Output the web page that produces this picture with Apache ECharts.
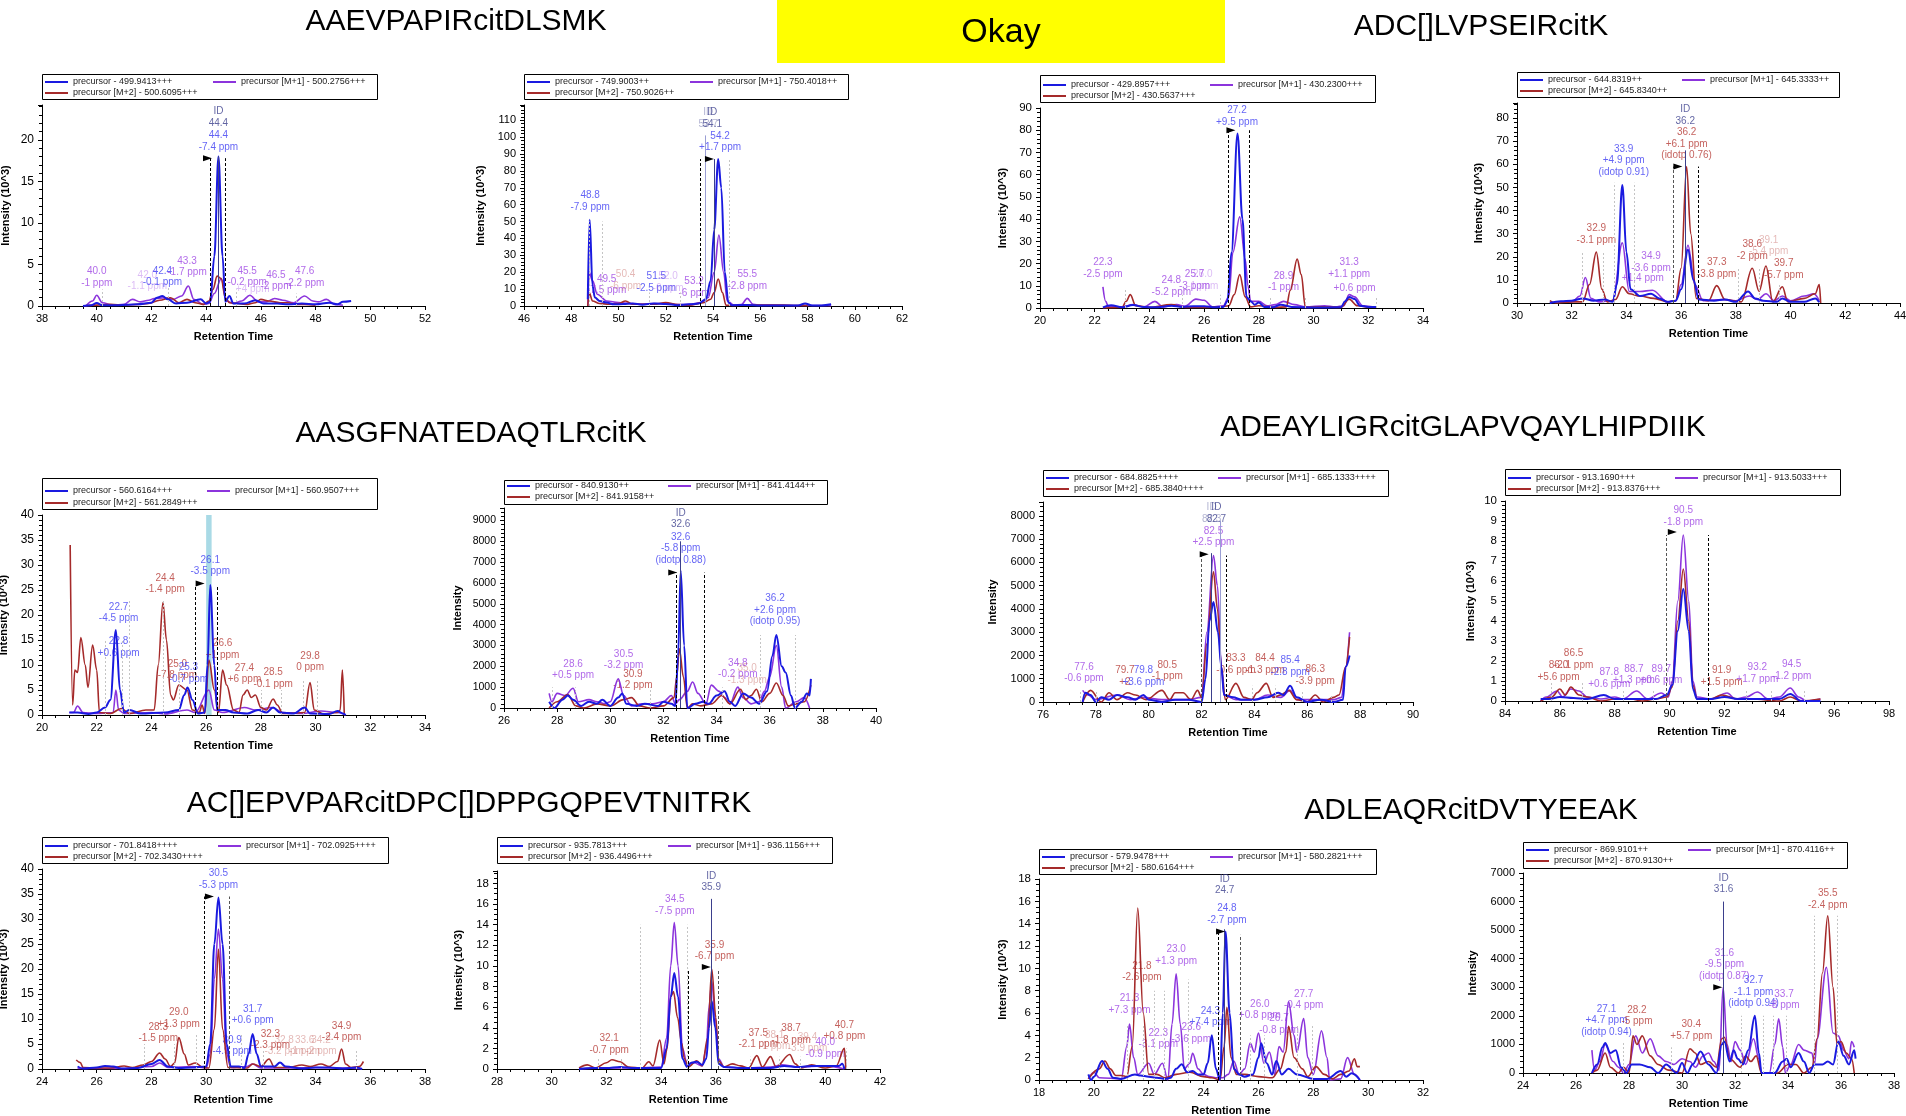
<!DOCTYPE html>
<html>
<head>
<meta charset="utf-8">
<script src="https://cdn.jsdelivr.net/npm/echarts@6/dist/echarts.min.js"></script>
<style>
  html, body { margin: 0; padding: 0; background: #fff; }
  #main { width: 1906px; height: 1116px; }
</style>
</head>
<body>
<div id="main"></div>
<script>
// peptide titles (one per pair of panels) and the status box
const titles = ['AAEVPAPIRcitDLSMK', 'ADC[]LVPSEIRcitK', 'AASGFNATEDAQTLRcitK', 'ADEAYLIGRcitGLAPVQAYLHIPDIIK', 'AC[]EPVPARcitDPC[]DPPGQPEVTNITRK', 'ADLEAQRcitDVTYEEAK'];
const statusText = 'Okay';

// legend names per panel: [precursor, M+1, M+2]
const legendNames = [
  ['precursor - 499.9413+++', 'precursor [M+1] - 500.2756+++', 'precursor [M+2] - 500.6095+++'],
  ['precursor - 749.9003++', 'precursor [M+1] - 750.4018++', 'precursor [M+2] - 750.9026++'],
  ['precursor - 429.8957+++', 'precursor [M+1] - 430.2300+++', 'precursor [M+2] - 430.5637+++'],
  ['precursor - 644.8319++', 'precursor [M+1] - 645.3333++', 'precursor [M+2] - 645.8340++'],
  ['precursor - 560.6164+++', 'precursor [M+1] - 560.9507+++', 'precursor [M+2] - 561.2849+++'],
  ['precursor - 840.9130++', 'precursor [M+1] - 841.4144++', 'precursor [M+2] - 841.9158++'],
  ['precursor - 684.8825++++', 'precursor [M+1] - 685.1333++++', 'precursor [M+2] - 685.3840++++'],
  ['precursor - 913.1690+++', 'precursor [M+1] - 913.5033+++', 'precursor [M+2] - 913.8376+++'],
  ['precursor - 701.8418++++', 'precursor [M+1] - 702.0925++++', 'precursor [M+2] - 702.3430++++'],
  ['precursor - 935.7813+++', 'precursor [M+1] - 936.1156+++', 'precursor [M+2] - 936.4496+++'],
  ['precursor - 579.9478+++', 'precursor [M+1] - 580.2821+++', 'precursor [M+2] - 580.6164+++'],
  ['precursor - 869.9101++', 'precursor [M+1] - 870.4116++', 'precursor [M+2] - 870.9130++']
];

// axis ranges
const xMins = [38, 46, 20, 30, 20, 26, 76, 84, 24, 28, 18, 24];
const xMaxs = [52, 62, 34, 44, 34, 40, 90, 98, 38, 42, 32, 38];
const yMaxs = [24.2, 119, 90, 86.5, 40, 9600, 8600, 10, 40, 19.2, 18, 7000];
const yIntervals = [5, 10, 10, 10, 5, 1000, 1000, 1, 5, 2, 2, 1000];
const yNames = ['Intensity (10^3)', 'Intensity (10^3)', 'Intensity (10^3)', 'Intensity (10^3)', 'Intensity (10^3)', 'Intensity',
  'Intensity', 'Intensity (10^3)', 'Intensity (10^3)', 'Intensity (10^3)', 'Intensity (10^3)', 'Intensity'];

// traces: [retention time, intensity]
const p1Blue = [[39.5,0],[39.8,0.1],[40.0,0.35],[40.2,0.1],[40.8,0.1],[41.5,0.2],[42.0,0.4],[42.2,1.0],[42.4,1.2],[42.6,0.8],[42.9,0.3],[43.3,0.4],[43.8,0.8],[44.0,0.3],[44.15,0.5],[44.3,6],[44.45,18],[44.6,6],[44.7,0.5],[44.85,1.2],[45.0,0.3],[45.4,0.3],[45.8,0.7],[46.1,0.3],[46.6,0.3],[47.0,0.2],[47.5,0.3],[48.0,0.2],[48.5,0.4],[48.8,0.2],[49.0,0.5],[49.3,0.6]];
const p1Purple = [[39.6,0],[39.85,0.6],[40.0,1.3],[40.2,0.4],[40.6,0.1],[41.0,0.2],[41.3,0.8],[41.6,0.5],[41.9,0.7],[42.1,0.9],[42.5,1.0],[42.8,0.8],[43.1,1.2],[43.35,2.4],[43.55,0.8],[43.9,0.2],[44.1,0.3],[44.3,1.5],[44.55,3.3],[44.75,0.6],[45.0,0.3],[45.3,0.6],[45.6,1.3],[45.9,0.5],[46.2,0.5],[46.5,0.9],[46.8,0.7],[47.2,0.4],[47.6,1.2],[47.9,0.6],[48.1,0.5],[48.4,0.8],[48.7,0.2],[49.0,0.1]];
const p1Red = [[39.5,0],[40.0,0.1],[40.5,0.2],[41.0,0.1],[41.5,0.2],[41.9,0.3],[42.3,0.7],[42.7,1.0],[43.0,0.4],[43.3,0.8],[43.6,0.4],[43.9,0.2],[44.1,0.6],[44.25,2.0],[44.4,3.6],[44.55,3.3],[44.7,1.0],[44.85,0.4],[45.5,0.2],[45.8,0.4],[46.0,0.8],[46.3,0.6],[46.7,0.4],[47.0,0.4],[47.3,0.2],[47.6,0.2],[48.0,0.1]];

const p2Blue = [[48.7,4],[48.78,51],[48.9,12],[49.0,5],[49.2,3],[49.5,2],[49.8,1],[50.2,1.2],[50.6,1.5],[51.0,0.8],[51.5,1.5],[52.0,1.2],[52.5,0.5],[53.0,1],[53.4,1.5],[53.7,4],[53.9,15],[54.05,45],[54.22,87],[54.35,70],[54.5,20],[54.65,2],[54.8,0.5],[55.5,0.6],[56.0,0.3],[57.0,0.3],[57.6,0.3],[57.9,1.5],[58.2,0.3],[58.6,0.3],[59.0,1.0]];
const p2Purple = [[48.7,0],[48.76,20],[48.9,15],[49.1,7],[49.5,3],[50.0,2],[50.5,1.5],[51.0,1.2],[51.5,1.5],[52.0,1.5],[52.5,0.8],[53.0,1],[53.5,2],[53.8,5],[54.05,20],[54.25,42],[54.45,20],[54.6,3],[54.9,0.5],[55.2,0.8],[55.45,4.5],[55.7,1],[56.0,0.5],[56.5,0.5],[57.5,0.3],[58.0,0.3],[59.0,0.2]];
const p2Red = [[48.7,0],[48.76,8],[48.9,3],[49.2,1.5],[49.6,1],[50.0,1.5],[50.3,3],[50.6,1],[51.0,1],[51.5,1],[52.0,2],[52.5,0.8],[53.0,0.5],[53.6,2],[53.9,4],[54.05,8],[54.22,16],[54.4,8],[54.55,0.5],[54.8,0.3],[55.5,0.5],[56.2,0.5],[57.0,0.5],[57.5,0.3],[58.0,0.2]];

const p3Blue = [[22.3,0.3],[22.6,1.2],[23.0,0.3],[23.4,1.3],[23.8,0.4],[24.3,0.3],[24.8,1.0],[25.2,0.5],[25.6,0.8],[26.0,0.8],[26.4,0.3],[26.7,0.5],[26.85,3],[27.0,25],[27.22,78.5],[27.4,40],[27.55,5],[27.7,3],[27.85,1.5],[28.0,2.5],[28.2,0.5],[28.5,0.3],[28.8,1.5],[29.2,0.5],[30.0,0.2],[31.0,0.3],[31.15,3],[31.3,5],[31.5,4],[31.7,1],[32.0,0.5],[32.3,0.5]];
const p3Purple = [[22.3,9.5],[22.4,3],[22.5,0.5],[23.0,0.5],[23.4,1.5],[23.8,0.5],[24.2,3],[24.5,0.5],[25.0,1.5],[25.3,0.8],[25.7,4],[26.0,3.5],[26.3,0.5],[26.7,1],[26.9,5],[27.05,25],[27.3,41],[27.5,22],[27.6,10],[27.7,3],[28.0,3],[28.3,1],[28.6,1.5],[28.9,3],[29.3,1.5],[29.7,0.5],[30.4,1],[30.8,0.5],[31.1,1],[31.3,6],[31.5,5],[31.8,1],[32.3,0.3]];
const p3Red = [[22.3,0],[23.0,0.3],[23.15,3],[23.3,6],[23.5,1],[24.0,0.3],[24.8,1.5],[25.3,0.3],[26.0,0.3],[26.6,0.5],[26.9,1],[27.1,6],[27.3,15],[27.5,5],[27.7,0.5],[28.0,1],[28.6,0.3],[29.0,0.5],[29.15,8],[29.4,22],[29.55,15],[29.7,0.3],[30.3,0.5],[31.0,0.3],[31.3,4],[31.6,1],[32.0,0.2]];

const p4Blue = [[31.2,0],[31.6,0.8],[32.0,1],[32.4,2],[32.8,1],[33.2,1.5],[33.5,0.5],[33.65,8],[33.85,51],[34.0,22],[34.15,6],[34.5,3],[34.9,4],[35.2,2],[35.5,0.5],[35.8,1],[36.0,6],[36.25,23],[36.45,10],[36.65,1.5],[37.2,1],[37.6,1.5],[38.0,0.5],[38.45,5],[38.7,2],[39.0,1],[39.5,0.5],[39.7,2],[40.0,0.5],[40.5,0.5],[40.9,2],[41.05,0.3]];
const p4Purple = [[31.5,0.5],[32.0,0.5],[32.3,3],[32.5,11],[32.7,2],[33.0,0.5],[33.5,1],[33.85,26],[34.1,5],[34.5,5],[34.95,5.5],[35.5,0.5],[35.8,1],[36.0,8],[36.25,25],[36.5,8],[36.8,1],[37.5,1.5],[38.0,1],[38.5,3],[38.8,1.5],[39.1,4],[39.4,1],[39.7,3],[40.0,1],[40.5,3],[40.85,4],[41.05,1]];
const p4Red = [[31.2,1],[31.4,0],[32.0,0.5],[32.4,0.5],[32.65,8],[32.9,22],[33.1,6],[33.3,0.5],[33.6,1.5],[33.85,7],[34.1,4],[34.5,3],[35.0,2],[35.5,0.5],[35.8,1],[36.0,15],[36.2,59],[36.35,30],[36.55,2],[37.0,1],[37.3,7.5],[37.6,1.5],[38.2,0.5],[38.6,15],[38.85,5],[39.1,16],[39.35,0.5],[39.7,7],[39.9,0.5],[40.5,2],[40.9,4],[41.05,8],[41.1,0]];

const p5Blue = [[21.0,0.5],[21.3,0.5],[21.7,0.2],[22.0,0.5],[22.3,1.5],[22.5,3],[22.7,17],[22.85,5],[23.0,0.5],[23.2,1],[23.6,0.3],[24.5,0.5],[25.0,1],[25.2,4],[25.32,5.5],[25.5,3],[25.7,0.3],[25.95,0.5],[26.05,10],[26.15,26],[26.3,10],[26.4,1],[26.7,1],[27.0,0.5],[27.5,0.3],[27.9,1],[28.2,0.5],[28.45,1.5],[28.7,0.5],[29.2,0.3],[29.6,1.5],[29.8,0.3],[30.5,0.2],[30.8,0.8],[31.0,0.3],[31.1,0]];
const p5Purple = [[21.0,0.5],[21.15,0.5],[21.3,1.8],[21.5,0.5],[22.0,0.3],[22.6,0.5],[22.7,5],[22.8,1],[23.0,0.3],[24.0,0.5],[24.5,0.2],[25.3,1],[25.6,0.5],[26.1,5],[26.3,1],[26.6,0.5],[27.4,1.5],[27.8,1],[28.4,1.5],[28.8,0.5],[29.5,0.3],[30.2,0.8],[30.8,0.5],[31.1,0]];
const p5Red = [[21.03,34],[21.12,2],[21.2,9],[21.3,8.5],[21.42,15.5],[21.58,10],[21.68,5.5],[21.85,14],[22.0,9],[22.1,0.5],[22.5,0.3],[22.9,1.3],[23.2,0.3],[23.8,1],[24.1,1],[24.25,10],[24.42,22.5],[24.55,15],[24.7,4],[24.8,3],[25.0,6],[25.3,5],[25.5,1],[25.75,0.5],[25.85,2],[25.95,0.3],[26.1,11],[26.3,5],[26.45,0.5],[26.6,9],[26.75,6],[27.0,1],[27.2,0.5],[27.35,4],[27.5,5],[27.65,3.5],[27.8,4],[28.0,1.5],[28.2,1],[28.45,3.2],[28.6,2],[28.8,0.3],[29.6,0.5],[29.8,6.5],[29.95,1],[30.3,0.2],[30.8,0.5],[30.9,1],[30.98,9],[31.05,0]];

const p6Blue = [[27.7,300],[27.9,0],[28.2,400],[28.4,600],[28.6,400],[28.9,100],[29.2,300],[29.5,200],[29.7,400],[30.0,100],[30.3,500],[30.45,700],[30.6,200],[31.0,100],[31.3,200],[31.8,100],[32.0,300],[32.3,200],[32.45,100],[32.55,2500],[32.65,6600],[32.78,3000],[32.9,0],[33.2,200],[33.5,300],[33.7,200],[34.0,600],[34.3,800],[34.5,300],[34.7,100],[35.0,700],[35.3,500],[35.6,200],[35.9,800],[36.1,2500],[36.25,3500],[36.45,2000],[36.6,1700],[36.8,600],[36.95,0],[37.2,300],[37.4,700],[37.5,600],[37.55,1400]];
const p6Purple = [[27.7,700],[27.8,300],[28.0,700],[28.3,600],[28.6,950],[28.8,300],[29.2,400],[29.5,300],[29.8,200],[30.0,300],[30.3,1400],[30.5,600],[30.8,100],[31.2,200],[31.6,200],[32.0,300],[32.3,600],[32.45,200],[32.6,400],[32.9,800],[33.1,1250],[33.3,700],[33.6,200],[33.8,1100],[34.1,800],[34.3,500],[34.5,200],[34.8,1000],[35.0,500],[35.3,200],[35.6,300],[35.8,800],[36.0,1500],[36.25,3000],[36.45,1000],[36.6,0],[37.0,300],[37.3,500],[37.5,0]];
const p6Red = [[27.7,0],[28.0,300],[28.4,650],[28.7,100],[29.0,0],[29.5,200],[30.0,100],[30.5,400],[30.8,500],[31.1,100],[31.5,0],[32.0,100],[32.4,500],[32.5,1500],[32.6,2850],[32.75,1500],[32.9,0],[33.1,200],[33.4,100],[33.8,200],[34.2,600],[34.5,200],[34.9,900],[35.1,400],[35.3,600],[35.5,900],[35.7,300],[36.0,700],[36.25,1200],[36.5,600],[36.7,100],[37.0,200],[37.3,300],[37.55,1100]];

const p7Blue = [[77.5,0],[77.6,400],[77.8,300],[78.0,0],[78.2,200],[78.5,100],[78.8,300],[79.2,200],[79.5,100],[79.8,300],[80.0,100],[80.5,0],[81.0,100],[81.5,100],[82.0,0],[82.15,1000],[82.3,3500],[82.45,4300],[82.62,3000],[82.75,1500],[82.85,300],[83.2,200],[83.5,100],[84.0,100],[84.5,200],[84.9,400],[85.1,300],[85.35,700],[85.6,200],[86.0,0],[86.5,100],[87.0,0],[87.35,100],[87.45,1500],[87.6,2000]];
const p7Purple = [[77.5,500],[77.7,300],[78.0,100],[78.8,300],[79.3,100],[79.8,200],[80.5,100],[81.0,100],[81.5,100],[82.0,200],[82.2,3000],[82.45,6300],[82.6,5000],[82.75,1500],[82.85,300],[83.3,100],[84.0,100],[84.5,300],[85.0,200],[85.35,500],[85.6,100],[86.5,100],[87.0,100],[87.3,200],[87.45,1500],[87.6,3000]];
const p7Red = [[77.5,0],[77.8,500],[78.2,0],[78.5,400],[78.8,100],[79.2,400],[79.5,300],[79.9,100],[80.5,500],[80.8,100],[81.0,400],[81.3,400],[81.6,100],[81.85,500],[82.0,200],[82.2,2500],[82.45,5600],[82.6,4000],[82.75,1500],[82.9,100],[83.3,800],[83.6,200],[83.9,100],[84.1,400],[84.45,800],[84.7,200],[85.0,300],[85.3,500],[85.6,100],[86.0,0],[86.3,300],[86.6,0],[87.0,200],[87.2,300],[87.45,1500],[87.6,2800]];

const p8Blue = [[85.3,0.1],[85.6,0.1],[86.0,0.2],[86.5,0.15],[87.0,0.1],[87.6,0.3],[88.0,0.1],[88.5,0.1],[88.9,0.1],[89.5,0.1],[89.9,0.3],[90.1,0.8],[90.3,3.5],[90.5,5.6],[90.7,3.5],[90.85,0.6],[91.0,0.1],[91.5,0.1],[92.0,0.2],[92.5,0.1],[93.0,0.1],[93.5,0.1],[94.0,0.1],[94.4,0.35],[94.8,0],[95.5,0]];
const p8Purple = [[85.3,0],[85.5,0.2],[85.9,0.5],[86.1,0.2],[86.4,0.6],[86.7,0.5],[87.0,0.2],[87.5,0.1],[88.0,0.2],[88.3,0.1],[88.8,0.5],[89.2,0.1],[89.7,0.4],[89.95,0.2],[90.1,1.0],[90.3,5],[90.5,8.3],[90.7,5],[90.85,1],[91.0,0.2],[91.5,0.1],[92.1,0.4],[92.4,0.1],[92.8,0.2],[93.2,0.45],[93.6,0.1],[94.0,0.2],[94.4,0.65],[94.7,0.2],[95.0,0],[95.5,0.1]];
const p8Red = [[85.3,0],[85.7,0.2],[86.0,0.6],[86.2,0.3],[86.4,0.7],[86.7,0.3],[87.0,0.2],[87.5,0],[88.0,0.1],[88.6,0.1],[89.0,0],[89.5,0.1],[89.9,0.2],[90.1,0.7],[90.3,4],[90.5,6.6],[90.7,4],[90.85,0.8],[91.0,0.1],[91.5,0.1],[91.9,0.3],[92.5,0.1],[93.0,0.1],[94.0,0],[94.4,0.2],[94.8,0],[95.5,0.1]];

const p9Blue = [[25.3,0.5],[25.5,0.1],[26.0,0.3],[26.3,0.6],[26.6,0.5],[26.9,0.1],[27.5,0.2],[28.0,1],[28.3,1.8],[28.6,0.5],[29.0,0.2],[29.5,0.3],[30.0,0.5],[30.15,5],[30.3,25],[30.45,34.3],[30.6,25],[30.75,5],[30.9,0.5],[31.2,0.5],[31.4,0.2],[31.55,3],[31.7,7],[31.85,3],[32.0,0.5],[32.5,0.5],[32.7,1.3],[32.9,0.5],[33.5,0.1],[34.0,0.3],[34.5,0.3],[35.0,0.1],[35.5,0.3],[35.7,0]];
const p9Purple = [[25.3,0.1],[26.0,0.1],[27.0,0.1],[28.0,0.5],[28.3,1.2],[28.6,0.3],[29.5,0.5],[30.0,0.2],[30.15,3],[30.3,18],[30.45,28],[30.6,18],[30.75,3],[30.9,0.3],[31.5,0.5],[31.7,1],[32.0,0.2],[33.0,0.2],[34.0,0.3],[35.0,0.2],[35.7,0]];
const p9Red = [[25.25,1.8],[25.4,1.3],[25.5,0.3],[26.0,0.2],[26.5,0.2],[27.0,0.6],[27.3,0.3],[27.7,0.8],[28.0,1.5],[28.3,3.2],[28.5,2],[28.7,0.5],[28.85,1.2],[29.0,6.3],[29.2,3],[29.35,0.8],[29.6,1.2],[29.9,0.3],[30.1,0.2],[30.3,8],[30.45,24],[30.6,8],[30.8,0.3],[31.5,0.2],[31.7,1],[32.0,0.5],[32.3,2],[32.5,0.3],[33.0,0.3],[33.5,0.8],[33.8,0.5],[34.2,1],[34.5,0.5],[34.8,1.5],[34.95,4],[35.1,1],[35.3,0.3],[35.6,0.5],[35.75,1.5]];

const p10Blue = [[31.0,0],[31.5,0.1],[32.0,0.1],[32.5,0.2],[33.0,0.1],[33.5,0.1],[34.0,0.1],[34.2,2],[34.35,7],[34.48,9.3],[34.62,7],[34.78,1],[34.95,0.2],[35.1,0.6],[35.3,0.7],[35.5,0.4],[35.65,1],[35.75,4],[35.85,6.6],[35.98,4],[36.1,0.5],[36.3,0.2],[37.0,0.1],[37.5,0.1],[38.0,0.1],[38.5,0.3],[39.0,0.2],[39.5,0.3],[40.0,0.3],[40.5,0.3],[40.62,0.5],[40.7,0]];
const p10Purple = [[31.0,0],[32.0,0.1],[33.0,0.1],[34.0,0.2],[34.2,3],[34.35,10],[34.48,14.2],[34.62,10],[34.78,2],[34.95,0.5],[35.2,0.6],[35.5,0.3],[35.65,2],[35.75,6],[35.85,8.5],[35.98,5],[36.1,1],[36.3,0.2],[37.0,0.1],[38.0,0.2],[38.4,0.4],[39.0,0.2],[40.0,0.3],[40.7,0]];
const p10Red = [[31.0,0.1],[31.3,0.4],[31.6,0.1],[32.0,0.6],[32.2,0.9],[32.5,0.7],[32.8,0.2],[33.3,0.1],[33.55,0.7],[33.7,0.3],[33.95,2.8],[34.1,0.5],[34.22,2],[34.35,7],[34.45,7.5],[34.6,5],[34.75,2.5],[34.85,1],[35.0,0.2],[35.3,0.8],[35.5,0.3],[35.7,3],[35.85,9.7],[36.0,5],[36.1,0.8],[36.3,0.2],[36.6,0.5],[36.9,0.3],[37.2,0.1],[37.5,1.3],[37.7,0.2],[38.0,1.2],[38.2,0.2],[38.7,1.4],[38.9,0.5],[39.1,0.1],[39.5,0.4],[40.0,0.1],[40.4,0.3],[40.7,2],[40.75,0]];

const p11Blue = [[19.8,0.5],[19.9,0],[20.0,0.3],[20.3,1.7],[20.5,1],[20.7,0.2],[21.0,0.1],[21.5,0.5],[21.7,0.4],[22.0,0.3],[22.3,0.2],[22.6,0.1],[22.8,0.2],[23.0,1],[23.2,1.4],[23.4,0.7],[23.6,0.8],[23.8,0.5],[24.0,0.5],[24.15,1.5],[24.3,4],[24.45,1],[24.6,0],[24.7,6],[24.8,13.3],[24.95,6],[25.1,1],[25.3,0.5],[25.5,0.3],[25.8,0.5],[26.0,2],[26.1,3.3],[26.3,1.5],[26.5,0.5],[26.65,1.7],[26.85,0.5],[27.1,1],[27.4,0.5],[28.0,0.1],[28.5,0.1],[29.0,0.8],[29.2,0.3],[29.4,0.6],[29.7,0]];
const p11Purple = [[19.8,0.1],[20.0,0.7],[20.2,0.2],[21.0,0.1],[21.2,3],[21.3,5],[21.45,2],[21.6,0.5],[22.0,1.5],[22.2,0.5],[22.5,1.5],[22.7,0],[22.85,5],[23.0,9.5],[23.15,5],[23.3,1],[23.5,1.5],[23.6,2.4],[23.8,1],[24.0,0.5],[24.2,0.3],[24.5,0.2],[24.7,0.2],[24.9,0.5],[25.1,1.7],[25.3,0.5],[25.5,1],[25.7,3.3],[25.85,2.5],[26.0,4.2],[26.2,1.5],[26.4,2.5],[26.6,0.5],[26.75,3],[26.9,2.5],[27.1,7],[27.3,4],[27.4,2.5],[27.65,5.5],[27.8,2],[28.0,0.5],[28.3,4.4],[28.5,2],[28.6,0],[29.0,0.1],[29.25,2],[29.5,0.5],[29.7,0]];
const p11Red = [[19.8,0.1],[20.2,1],[20.4,1.7],[20.6,1],[20.8,0.4],[21.0,0.4],[21.2,0.3],[21.4,3],[21.6,15.4],[21.8,6],[22.0,0.5],[22.3,0.5],[22.6,0.2],[23.0,0.5],[23.5,0.7],[24.0,0.3],[24.3,0.2],[24.6,0],[24.75,3],[24.85,6.5],[25.0,2],[25.2,0.5],[25.5,0.5],[26.0,0.3],[26.5,0.2],[26.8,1],[27.0,2.5],[27.1,4.8],[27.3,2],[27.6,1],[27.8,0.3],[28.1,1.2],[28.4,0.5],[28.7,0.1],[29.0,0.5],[29.3,0.8],[29.5,1.9],[29.6,1.2],[29.7,1.2]];

const p12Blue = [[26.6,0],[26.8,300],[27.0,900],[27.1,1050],[27.3,700],[27.5,800],[27.7,200],[27.9,0],[28.1,300],[28.4,300],[28.8,200],[29.1,0],[29.4,300],[29.8,0],[30.0,350],[30.2,0],[30.4,300],[30.7,750],[31.0,300],[31.3,0],[31.5,1000],[31.6,1100],[31.8,400],[31.95,800],[32.1,500],[32.3,300],[32.5,800],[32.75,2000],[32.9,700],[33.0,0],[33.5,0],[33.8,400],[33.95,500],[34.1,200],[34.4,700],[34.6,400],[34.8,0],[35.0,300],[35.3,300],[35.5,400],[35.7,300],[35.9,1100],[36.1,600],[36.3,300],[36.5,800],[36.55,500]];
const p12Purple = [[26.6,800],[26.7,100],[26.9,400],[27.1,1000],[27.4,400],[27.6,200],[27.8,0],[28.0,300],[28.25,1300],[28.5,700],[28.8,1200],[29.1,600],[29.4,400],[29.7,300],[30.0,500],[30.3,400],[30.5,200],[30.8,600],[31.0,700],[31.2,400],[31.4,100],[31.55,3000],[31.7,1000],[31.85,400],[32.0,1100],[32.2,800],[32.4,300],[32.7,1200],[32.9,500],[33.0,0],[33.3,0],[33.5,1000],[33.65,1900],[33.8,900],[33.9,0],[34.1,300],[34.4,1000],[34.6,800],[34.9,700],[35.0,300],[35.1,1200],[35.45,3700],[35.7,1400],[35.9,1300],[36.1,800],[36.3,500],[36.4,1100],[36.5,900]];
const p12Red = [[26.6,0],[26.8,100],[27.1,700],[27.3,200],[27.6,0],[27.8,200],[28.0,0],[28.15,1300],[28.3,1000],[28.5,1300],[28.8,600],[29.1,300],[29.5,100],[30.0,0],[30.3,850],[30.5,700],[30.7,300],[31.0,400],[31.3,200],[31.5,1200],[31.6,1250],[31.8,500],[32.2,200],[32.4,600],[32.6,400],[32.8,600],[33.0,0],[33.6,0],[34.0,300],[34.3,300],[34.6,0],[34.9,200],[35.1,1200],[35.3,3500],[35.5,5500],[35.7,3000],[35.85,1000],[36.0,1100],[36.2,700],[36.4,500],[36.5,0]];

// peak labels: [rt, label base, text, colour key]
const p1Notes = [[44.45,21.3,'ID\n44.4','id'],[44.45,18.4,'44.4\n-7.4 ppm','b'],[40.0,2.0,'40.0\n-1 ppm','p'],[41.85,1.6,'42.0\n-1.1 ppm','lp'],[42.4,2.1,'42.4\n-0.1 ppm','b'],[43.3,3.3,'43.3\n-1.7 ppm','p'],[45.5,2.1,'45.5\n-0.2 ppm','p'],[45.7,1.3,'\n+4 ppm','lp'],[46.55,1.6,'46.5\n-2 ppm','p'],[47.6,2.0,'47.6\n-2.2 ppm','p']];
const p2Notes = [[53.8,104,'ID\n53.7','lid'],[53.97,104,'ID\n54.1','id'],[54.3,90,'54.2\n+1.7 ppm','b'],[48.8,55,'48.8\n-7.9 ppm','b'],[49.5,5.5,'49.5\n-7.5 ppm','p'],[50.3,8,'50.4\n-6 ppm','lr'],[51.6,7,'51.5\n-2.5 ppm','b'],[52.1,7,'52.0\n-6 ppm','lp'],[53.2,4,'53.2\n-6 ppm','p'],[55.45,8,'55.5\n-2.8 ppm','p']];
const p3Notes = [[27.2,81,'27.2\n+9.5 ppm','b'],[22.3,12.4,'22.3\n-2.5 ppm','p'],[24.8,4.5,'24.8\n-5.2 ppm','p'],[25.65,7,'25.7\n-3 ppm','p'],[25.95,7,'26.0\n-1 ppm','lp'],[28.9,6.4,'28.9\n-1 ppm','p'],[31.3,12.4,'31.3\n+1.1 ppm','p'],[31.5,6,'+0.6 ppm','p']];
const p4Notes = [[36.15,76,'ID\n36.2','id'],[36.2,61,'36.2\n+6.1 ppm\n(idotp 0.76)','r'],[33.9,54,'33.9\n+4.9 ppm\n(idotp 0.91)','b'],[32.9,24.5,'32.9\n-3.1 ppm','r'],[34.9,12.5,'34.9\n-3.6 ppm','p'],[34.6,8.2,'+1.4 ppm','p'],[37.3,9.8,'37.3\n-3.8 ppm','r'],[38.6,17.6,'38.6\n-2 ppm','r'],[39.2,19.5,'39.1\n-5.4 ppm','lr'],[39.75,9.4,'39.7\n-5.7 ppm','r']];
const p5Notes = [[26.15,27.5,'26.1\n-3.5 ppm','b'],[24.5,23.9,'24.4\n-1.4 ppm','r'],[22.8,18.1,'22.7\n-4.5 ppm','b'],[22.8,11.2,'22.8\n+0.6 ppm','b'],[24.95,6.7,'25.0\n-7.8 ppm','r'],[25.35,6.0,'25.3\n-0.7 ppm','b'],[26.6,10.8,'26.6\n+1 ppm','r'],[27.4,5.9,'27.4\n+6 ppm','r'],[28.45,5.0,'28.5\n-0.1 ppm','r'],[29.8,8.3,'29.8\n0 ppm','r']];
const p6Notes = [[32.65,8500,'ID\n32.6','id'],[32.65,6800,'32.6\n-5.8 ppm\n(idotp 0.88)','b'],[36.2,3850,'36.2\n+2.6 ppm\n(idotp 0.95)','b'],[28.6,1250,'28.6\n+0.5 ppm','p'],[30.5,1730,'30.5\n-3.2 ppm','p'],[30.85,770,'30.9\n-1.2 ppm','r'],[34.8,1310,'34.8\n-0.2 ppm','p'],[35.15,1050,'35.0\n-1.3 ppm','lr']];
const p7Notes = [[82.38,7600,'ID\n82.3','lid'],[82.56,7600,'ID\n82.7','id'],[82.45,6580,'82.5\n+2.5 ppm','p'],[77.55,740,'77.6\n-0.6 ppm','p'],[79.1,600,'79.7\n+2','r'],[79.8,600,'79.8\n+3.6 ppm','b'],[80.7,820,'80.5\n-1 ppm','r'],[83.3,1100,'83.3\n-0.6 ppm','r'],[84.4,1100,'84.4\n-1.3 ppm','r'],[85.35,1030,'85.4\n-2.8 ppm','b'],[86.3,630,'86.3\n-3.9 ppm','r']];
const p8Notes = [[90.5,8.65,'90.5\n-1.8 ppm','p'],[86.5,1.5,'86.5\n-2.1 ppm','r'],[85.95,0.88,'86.0\n+5.6 ppm','r'],[87.8,0.55,'87.8\n+0.6 ppm','p'],[88.7,0.72,'88.7\n+1.3 ppm','p'],[89.7,0.72,'89.7\n+0.6 ppm','p'],[91.9,0.63,'91.9\n+1.5 ppm','r'],[93.2,0.8,'93.2\n+1.7 ppm','p'],[94.45,0.93,'94.5\n-1.2 ppm','p']];
const p9Notes = [[30.45,35.6,'30.5\n-5.3 ppm','b'],[31.7,8.5,'31.7\n+0.6 ppm','b'],[30.95,2.3,'30.9\n-4.9 ppm','b'],[29.0,7.8,'29.0\n+1.3 ppm','r'],[28.25,4.9,'28.3\n-1.5 ppm','r'],[32.35,3.5,'32.3\n-2.3 ppm','r'],[32.85,2.3,'32.8\n-3.2 ppm','lr'],[33.6,2.3,'33.6\n-1 ppm','lr'],[34.2,2.3,'34.2\n-2 ppm','lr'],[34.95,5.1,'34.9\n-2.4 ppm','r']];
const p10Notes = [[35.83,17.0,'ID\n35.9','id'],[34.5,14.7,'34.5\n-7.5 ppm','p'],[35.95,10.3,'35.9\n-6.7 ppm','r'],[32.1,1.26,'32.1\n-0.7 ppm','r'],[37.55,1.78,'37.5\n-2.1 ppm','r'],[38.15,1.6,'38.1\n-1 ppm','lr'],[38.75,2.2,'38.7\n-1.8 ppm','r'],[39.35,1.4,'39.4\n-3.9 ppm','lr'],[40.0,0.87,'40.0\n-0.9 ppm','p'],[40.7,2.55,'40.7\n+0.8 ppm','r']];
const p11Notes = [[24.77,16.4,'ID\n24.7','id'],[24.85,13.75,'24.8\n-2.7 ppm','b'],[23.0,10.1,'23.0\n+1.3 ppm','p'],[21.75,8.6,'21.8\n-2.6 ppm','r'],[21.3,5.7,'21.3\n+7.3 ppm','p'],[22.35,2.6,'22.3\n-3.1 ppm','p'],[23.55,3.1,'23.6\n-3.6 ppm','p'],[24.25,4.6,'24.3\n+7.4 ppm','b'],[26.05,5.2,'26.0\n+0.8 ppm','p'],[26.75,3.9,'26.7\n-0.8 ppm','p'],[27.65,6.1,'27.7\n-0.4 ppm','p']];
const p12Notes = [[31.57,6200,'ID\n31.6','id'],[31.6,3170,'31.6\n-9.5 ppm\n(idotp 0.87)','p'],[32.7,2210,'32.7\n-1.1 ppm\n(idotp 0.94)','b'],[33.85,2150,'33.7\n-8 ppm','p'],[35.5,5660,'35.5\n-2.4 ppm','r'],[27.15,1220,'27.1\n+4.7 ppm\n(idotp 0.94)','b'],[28.3,1590,'28.2\n-5 ppm','r'],[30.35,1080,'30.4\n+5.7 ppm','r']];

// vertical markers: [rt, height, kind]  k = boundary, g = light guide, id = ID line
const p1Lines = [[44.15,17.8,'k'],[44.7,17.8,'k'],[44.45,18,'id'],[40.2,2,'g'],[42.6,2.2,'g'],[45.1,2,'g'],[47.3,1.5,'g']];
const p2Lines = [[53.45,87,'k'],[54.7,87,'g'],[53.69,101,'lid'],[54.06,87,'id'],[48.75,50,'g'],[49.3,50,'g'],[51.3,8,'g'],[52.6,8,'g']];
const p3Lines = [[26.88,80,'k'],[27.65,80,'k'],[23.1,9,'g'],[25.2,6,'g'],[26.6,6,'g'],[28.4,5,'g'],[29.7,5,'g'],[32.3,5,'g']];
const p4Lines = [[35.72,59,'g2'],[36.64,59,'k'],[36.15,66,'id'],[33.55,52,'g'],[34.3,52,'g'],[32.4,22,'g'],[33.15,22,'g'],[38.1,15,'g'],[38.85,15,'g'],[39.6,8,'g']];
const p5Lines = [[25.6,26,'k'],[26.39,26,'k'],[22.3,15,'g'],[22.95,15,'g'],[23.2,23,'g'],[24.45,23,'g'],[25.0,10,'g'],[28.0,5,'g'],[28.75,5,'g'],[29.55,7,'g'],[30.05,7,'g']];
const p6Lines = [[32.47,6500,'k'],[33.54,6500,'k'],[32.65,8000,'id'],[27.8,1000,'g'],[28.7,1000,'g'],[31.5,1000,'g'],[34.2,1000,'g'],[35.65,3500,'g'],[36.95,3500,'g']];
const p7Lines = [[81.97,6300,'g2'],[82.95,6300,'k'],[82.35,6400,'id'],[82.7,7800,'lid'],[77.4,500,'g'],[78.0,500,'g'],[83.9,700,'g'],[84.8,700,'g'],[85.8,500,'g'],[86.9,300,'g']];
const p8Lines = [[89.89,8.3,'g2'],[91.41,8.3,'k'],[85.7,1,'g'],[86.8,1,'g'],[88.3,0.5,'g'],[89.4,0.5,'g'],[92.8,0.6,'g'],[93.7,0.6,'g'],[94.9,0.6,'g']];
const p9Lines = [[29.93,34.5,'k'],[30.85,34.5,'g2'],[27.75,5,'g'],[28.85,5,'g'],[29.65,7,'g'],[31.3,7,'g'],[32.1,4,'g'],[35.5,4,'g']];
const p10Lines = [[35.0,9.7,'k'],[36.1,9.7,'g2'],[33.25,14,'g'],[34.95,14,'g'],[35.83,16.5,'id'],[31.7,1,'g'],[32.55,1,'g'],[37.25,1.2,'g'],[38.3,1.2,'g'],[39.1,1.2,'g'],[40.75,2,'g']];
const p11Lines = [[24.53,13.3,'k'],[25.34,13,'g2'],[24.77,13.5,'id'],[21.2,5,'g'],[21.8,5,'g'],[22.2,8,'g'],[22.55,8,'g'],[23.45,9,'g'],[25.7,4,'g'],[26.2,4,'g'],[27.4,5,'g'],[27.95,5,'g']];
const p12Lines = [[31.57,6000,'id'],[35.0,5500,'g'],[35.85,5500,'g'],[27.8,1050,'g'],[29.6,900,'g'],[32.25,2000,'g'],[33.05,2000,'g'],[33.45,2000,'g'],[33.95,2000,'g']];

// retention-time arrow (start of integration) per panel
const arrowPoints = [[44.05,17.8],[53.85,87],[26.98,80],[35.88,59],[25.78,26.3],[32.35,6500],[82.1,6350],[90.1,8.45],[30.12,34.5],[35.65,9.9],[24.62,13.3],[31.35,3000]];
// highlighted retention band (panel 5 only)
const bands = [null, null, null, null, [26.0, 26.2], null, null, null, null, null, null, null];

const traces = [[p1Blue,p1Purple,p1Red],[p2Blue,p2Purple,p2Red],[p3Blue,p3Purple,p3Red],[p4Blue,p4Purple,p4Red],
  [p5Blue,p5Purple,p5Red],[p6Blue,p6Purple,p6Red],[p7Blue,p7Purple,p7Red],[p8Blue,p8Purple,p8Red],
  [p9Blue,p9Purple,p9Red],[p10Blue,p10Purple,p10Red],[p11Blue,p11Purple,p11Red],[p12Blue,p12Purple,p12Red]];
const notes = [p1Notes,p2Notes,p3Notes,p4Notes,p5Notes,p6Notes,p7Notes,p8Notes,p9Notes,p10Notes,p11Notes,p12Notes];
const vlines = [p1Lines,p2Lines,p3Lines,p4Lines,p5Lines,p6Lines,p7Lines,p8Lines,p9Lines,p10Lines,p11Lines,p12Lines];

// ---------- layout (pixels) ----------
// plot box: [left, top, right, bottom]
const plotBoxes = [
  [42,105,425,306],[524,105,902,306],[1040,108,1423,308],[1517,103,1900,303],
  [42,515,425,715],[504,508,876,708],[1043,502,1413,702],[1505,501,1889,701],
  [42,869,425,1069],[497,871,880,1069],[1039,879,1423,1080],[1523,873,1894,1073]];
// legend: [x, y, w, h, row1 centre, row2 centre, offset of the M+1 item]
const legendBoxes = [
  [42,74,335,25,82,93,171],[524,74,324,25,82,93,166],[1040,75,335,27,85,96,170],[1517,72,322,25,80,91,165],
  [42,478,335,31,491,503,165],[504,480,323,24,486,497,164],[1043,470,345,26,478,489,175],[1505,469,335,26,478,489,170],
  [42,837,346,26,846,857,176],[497,837,335,26,846,857,171],[1039,849,337,25,857,868,171],[1523,842,324,26,850,861,165]];
const yNameGaps = [31, 38, 32, 33, 33, 41, 45, 29, 33, 33, 31, 45];
const yLabelSizes = [12, 11, 11.5, 11.5, 12, 10.5, 11, 11.5, 12, 11.5, 11.5, 11];
const titlePos = [[456,22],[1481,27],[471,434],[1463,428],[469,804],[1471,811]];

const fontFamily = '"Liberation Sans", Arial, sans-serif';
const traceColors = ['#1a1ae0', '#8c34dc', '#a52a2a'];
const traceWidths = [2, 1.6, 1.6];
const noteColors = {
  b: '#3c3cf2', p: '#9d45e4', r: '#b53a34', id: '#3b3f8c',
  lb: 'rgba(60,60,242,0.45)', lp: 'rgba(157,69,228,0.45)', lr: 'rgba(181,58,52,0.45)', lid: 'rgba(59,63,140,0.5)'
};
const markStyles = {
  k: { color: '#000', type: [3, 2], width: 1 },
  g2: { color: '#555', type: [3, 2], width: 1 },
  g: { color: '#c4c4c4', type: [2, 2], width: 1 },
  id: { color: '#3b3f8c', type: 'solid', width: 1 },
  lid: { color: '#9a9ed4', type: 'solid', width: 1 }
};

const chart = echarts.init(document.getElementById('main'), null, { renderer: 'canvas' });

const option = {
  animation: false,
  backgroundColor: '#fff',
  grid: [], xAxis: [], yAxis: [], legend: [], series: [], graphic: []
};

// titles and status box
option.graphic.push({
  type: 'rect', shape: { x: 777, y: 0, width: 448, height: 63 }, style: { fill: '#ffff00' }, z: 0
});
option.graphic.push({
  type: 'text', x: 1001, y: 33, z: 1,
  style: { text: statusText, font: '34px ' + fontFamily, fill: '#000', align: 'center', verticalAlign: 'middle' }
});
titles.forEach((t, i) => {
  option.graphic.push({
    type: 'text', x: titlePos[i][0], y: titlePos[i][1], z: 1,
    style: { text: t, font: '30px ' + fontFamily, fill: '#000', align: 'center', verticalAlign: 'middle' }
  });
});

traces.forEach((tr, i) => {
  const [l, t, r, b] = plotBoxes[i];
  option.grid.push({ left: l, top: t, width: r - l, height: b - t, containLabel: false, outerBoundsMode: 'none' });

  option.xAxis.push({
    gridIndex: i, type: 'value', min: xMins[i], max: xMaxs[i], interval: 2,
    axisLine: { lineStyle: { color: '#000', width: 1 } },
    axisTick: { length: 4, lineStyle: { color: '#000' } },
    minorTick: { show: true, splitNumber: 4, length: 3, lineStyle: { color: '#000' } },
    splitLine: { show: false }, minorSplitLine: { show: false },
    axisLabel: { fontSize: 11, color: '#000', margin: 7, fontFamily, formatter: v => String(v) },
    name: 'Retention Time', nameLocation: 'middle', nameGap: 25, nameMoveOverlap: false,
    nameTextStyle: { fontSize: 11, fontWeight: 'bold', color: '#000', fontFamily }
  });

  const yStep = yIntervals[i];
  const aligned = Math.abs(yMaxs[i] / yStep - Math.round(yMaxs[i] / yStep)) < 1e-9;
  option.yAxis.push({
    gridIndex: i, type: 'value', min: 0, max: yMaxs[i], interval: yStep,
    axisLine: { show: true, lineStyle: { color: '#000', width: 1 } },
    axisTick: { show: true, length: 4, lineStyle: { color: '#000' } },
    minorTick: { show: true, splitNumber: (yStep === 2 ? 4 : 5), length: 3, lineStyle: { color: '#000' } },
    splitLine: { show: false }, minorSplitLine: { show: false },
    // plain integers, no thousands separator
    axisLabel: { fontSize: yLabelSizes[i], color: '#000', margin: 8, fontFamily, showMaxLabel: aligned, formatter: v => String(v) },
    name: yNames[i], nameLocation: 'middle', nameRotate: 90, nameGap: yNameGaps[i], nameMoveOverlap: false,
    nameTextStyle: { fontSize: 11, fontWeight: 'bold', color: '#000', fontFamily }
  });

  // legend frame + three legend entries
  const [lx, ly, lw, lh, r1, r2, dx] = legendBoxes[i];
  option.graphic.push({
    type: 'rect', shape: { x: lx + 0.5, y: ly + 0.5, width: lw, height: lh },
    style: { fill: 'none', stroke: '#000', lineWidth: 1 }, z: 1
  });
  const legendItem = (name, x, yc) => ({
    data: [name], left: x, top: yc - 5, icon: 'rect', itemWidth: 23, itemHeight: 2,
    itemGap: 0, padding: 0, selectedMode: false,
    textStyle: { fontSize: 9, color: '#222', fontFamily, lineHeight: 10 }
  });
  option.legend.push(legendItem(legendNames[i][0], lx + 3, r1));
  option.legend.push(legendItem(legendNames[i][1], lx + dx, r1));
  option.legend.push(legendItem(legendNames[i][2], lx + 3, r2));

  // draw M+1 and M+2 first, precursor on top
  [1, 2, 0].forEach(k => {
    option.series.push({
      type: 'line', name: legendNames[i][k], xAxisIndex: i, yAxisIndex: i,
      data: tr[k], smooth: 0.35, smoothMonotone: 'x', showSymbol: false, symbol: 'none',
      lineStyle: { color: traceColors[k], width: traceWidths[k] },
      itemStyle: { color: traceColors[k] }, silent: true
    });
  });

  // peak labels, boundaries, arrow
  const ann = {
    type: 'scatter', xAxisIndex: i, yAxisIndex: i, symbolSize: 1, silent: true,
    itemStyle: { color: 'rgba(0,0,0,0)' },
    label: { show: true, position: 'top', distance: 0, formatter: '{b}', fontSize: 10, lineHeight: 11.5, fontFamily, align: 'center' },
    data: notes[i].map(n => ({ name: n[2], value: [n[0], n[1]], label: { color: noteColors[n[3]] } })),
    markLine: {
      silent: true, symbol: ['none', 'none'], label: { show: false }, animation: false,
      data: vlines[i].map(v => [{ coord: [v[0], 0], lineStyle: markStyles[v[2]] }, { coord: [v[0], v[1]] }])
    },
    markPoint: {
      silent: true, symbol: 'triangle', symbolSize: [6, 9], symbolRotate: -90,
      itemStyle: { color: '#000' }, label: { show: false },
      data: [{ coord: arrowPoints[i] }]
    }
  };
  if (bands[i]) {
    ann.markArea = {
      silent: true,
      data: [[{ xAxis: bands[i][0], itemStyle: { color: 'rgba(140,205,222,0.75)' } }, { xAxis: bands[i][1] }]]
    };
  }
  option.series.push(ann);
});

chart.setOption(option);
</script>
</body>
</html>
